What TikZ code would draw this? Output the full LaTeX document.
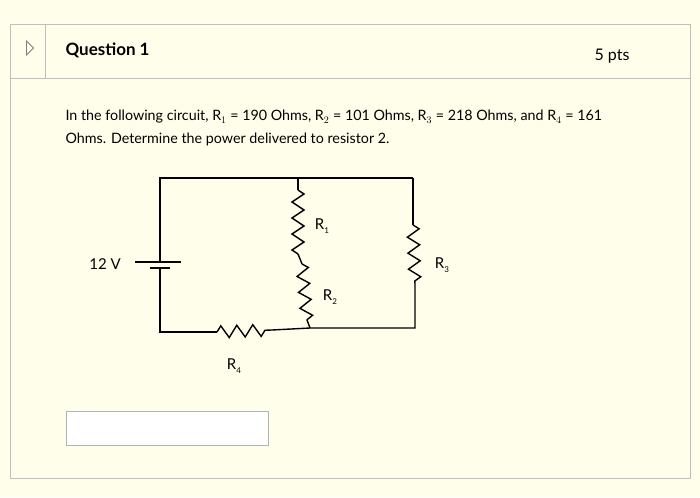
\documentclass[tikz,border=0pt]{standalone}
\usepackage{fontspec}
\setmainfont{Lato}
\usetikzlibrary{decorations.pathmorphing,shapes.geometric}
\tikzset{wire/.style={line width=1.4pt,black},
 res/.style={wire,decorate,decoration={zigzag,segment length=16pt,amplitude=6pt}},
 lbl/.style={font=\fontsize{15}{17}\selectfont,inner sep=1pt}}
\begin{document}
\begin{tikzpicture}[x=1pt,y=-1pt]
\useasboundingbox (0,0) rectangle (700,497);
\fill[white!92!yellow] (0,0) rectangle (700,497);
\draw[gray!50,line width=1pt] (10,25) -- (690,25) -- (690,478) -- (10,478) -- cycle;
\draw[gray!50] (45,25) -- (45,78);
\draw[gray!50] (10,78) -- (690,78);
\node[draw=gray,line width=0.8pt,isosceles triangle,isosceles triangle apex angle=90,minimum size=7pt,inner sep=1.5pt] (ic) at (29,48) {};
\node[anchor=west,font=\fontsize{17}{20}\selectfont\bfseries] (q) at (62,50) {Question 1};
\node[anchor=east,font=\fontsize{16}{19}\selectfont] (p) at (633,56) {5 pts};
\node[anchor=west,font=\fontsize{14.3}{17}\selectfont] (t1) at (62,117) {In the following circuit, R$_1$ = 190 Ohms, R$_2$ = 101 Ohms, R$_3$ = 218 Ohms, and R$_4$ = 161};
\node[anchor=west,font=\fontsize{14.3}{17}\selectfont] (t2) at (62,139) {Ohms. Determine the power delivered to resistor 2.};
% circuit
\coordinate (TL) at (160,178); \coordinate (TM) at (298,178); \coordinate (TR) at (413,178);
\coordinate (BL) at (160,332); \coordinate (BM) at (310,328); \coordinate (BR) at (415,328);
\coordinate (Bp) at (160,262); \coordinate (Bn) at (160,268);
\draw[wire] (Bp) -- (TL) -- (TM) -- (TR);
\draw[wire] (135,262) -- (181,262);
\draw[wire] (150,268) -- (170,268);
\draw[wire] (Bn) -- (BL) -- (217,332);
\draw[res] (217,332) -- (272,330);
\draw[wire] (272,330) -- (BM) -- (BR) -- (415,285);
\draw[wire] (TM) -- (298,190);
\draw[res] (298,190) -- (298,254);
\draw[wire] (298,254) -- (302,264);
\draw[res] (302,264) -- (307,320);
\draw[wire] (307,320) -- (BM);
\draw[wire] (TR) -- (413,225);
\draw[res] (413,225) -- (415,285);
\node[lbl] (r1) at (322,226) {R\raisebox{-4pt}{\footnotesize 1}};
\node[lbl] (r2) at (330,297) {R\raisebox{-4pt}{\footnotesize 2}};
\node[lbl] (r3) at (442,265) {R\raisebox{-4pt}{\footnotesize 3}};
\node[lbl] (r4) at (234,366) {R\raisebox{-4pt}{\footnotesize 4}};
\node[lbl] (v) at (105,264) {12 V};
\draw[gray!60,fill=white] (66,411) rectangle (268,445);
\end{tikzpicture}
\end{document}
